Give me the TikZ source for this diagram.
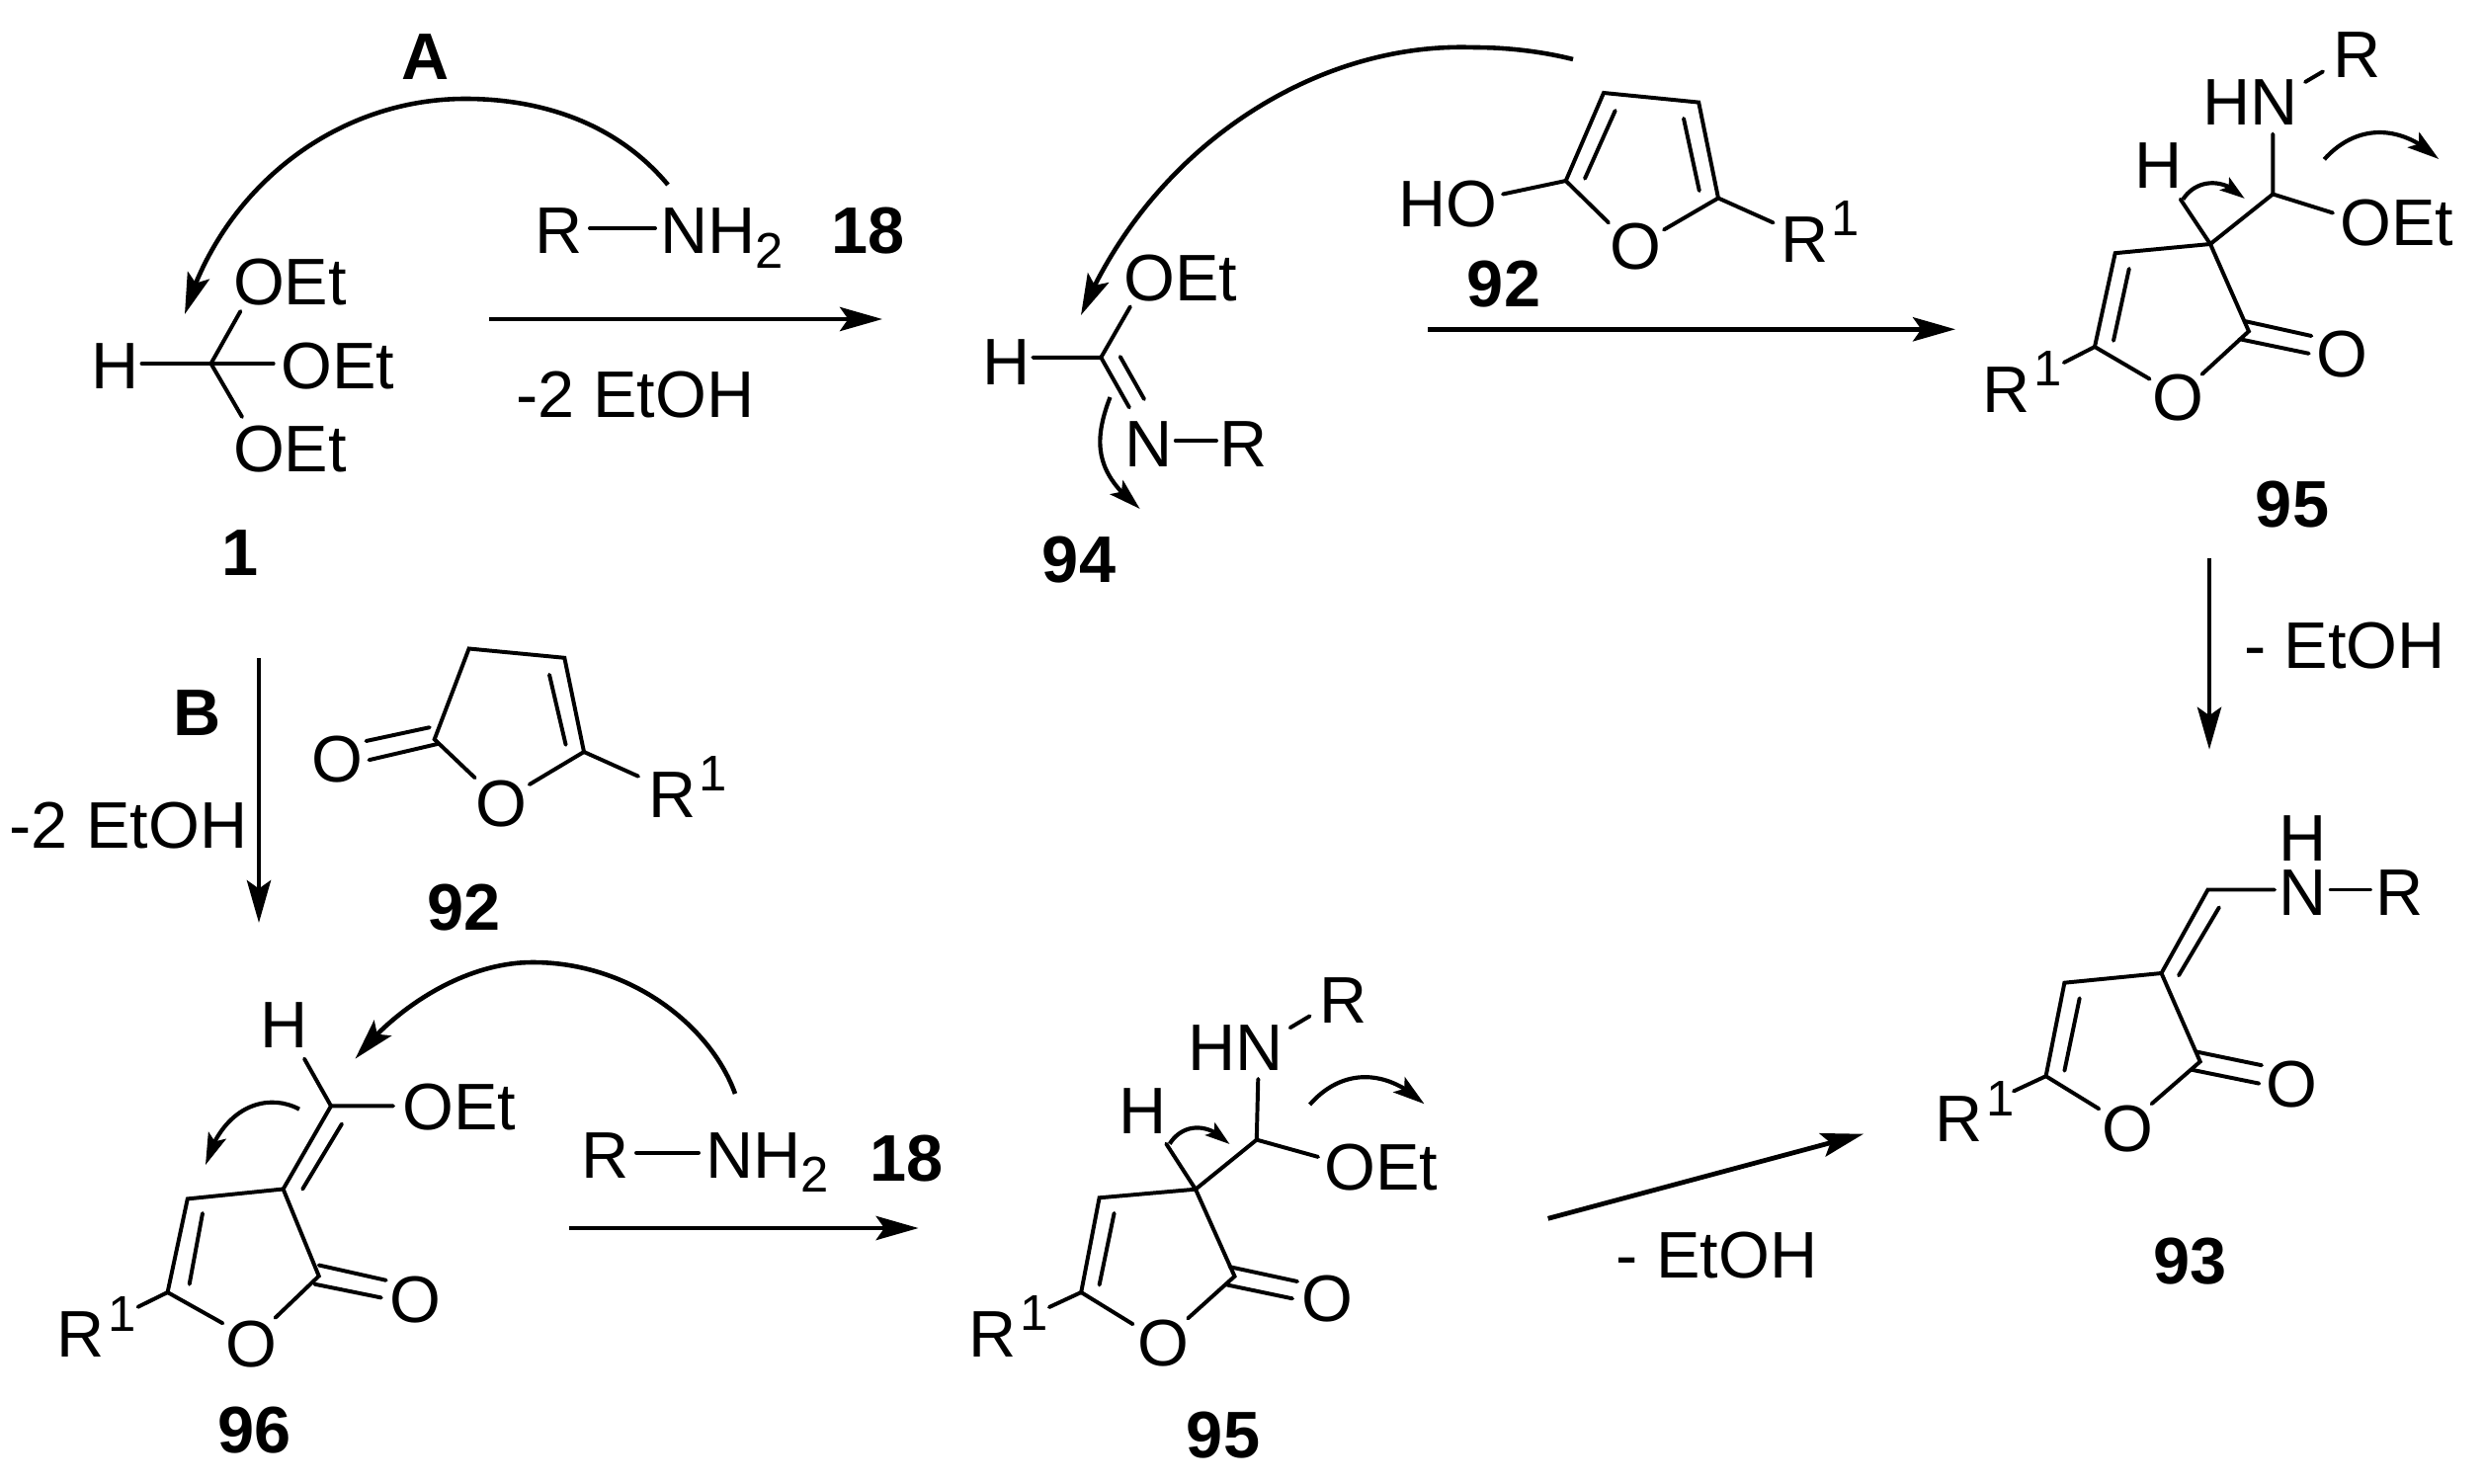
\documentclass[tikz,border=0pt]{standalone}
\usepackage{fontspec}
\setmainfont{Liberation Sans}
\usetikzlibrary{arrows.meta,bending}
\newcommand{\Rone}{R\kern0.8pt\raisebox{6.4pt}{\fontsize{12.2}{13}\selectfont 1}}
\newcommand{\NHtwo}{NH\raisebox{-3.4pt}{\fontsize{12.2}{13}\selectfont 2}}
\tikzset{
  atom/.style={inner sep=0pt,outer sep=0pt,anchor=base,font=\fontsize{16}{18}\selectfont},
  atomw/.style={atom,anchor=base west},
  lab/.style={atom,font=\fontsize{16}{18}\selectfont\bfseries},
  bond/.style={line width=0.95pt,line cap=round,line join=miter},
  rxn/.style={line width=1.15pt,-{Stealth[length=10.3pt,width=5.8pt,inset=2pt]}},
  big/.style={line width=1.1pt,-{Stealth[length=10pt,width=5.6pt,inset=2pt,flex]}},
  mid/.style={line width=1pt,-{Stealth[length=7.7pt,width=4.6pt,inset=1.6pt,flex]}},
  small/.style={line width=1pt,-{Stealth[length=6pt,width=3.8pt,inset=1.2pt,flex]}},
}
\begin{document}
\begin{tikzpicture}[x=0.24pt,y=-0.24pt]
\useasboundingbox (0,0) rectangle (2515,1502);
% ---------- compound 1
\node[atom] (aH) at (116.5,393) {H};
\node[atom] (aO1) at (293.5,308.5) {OEt};
\node[atom] (aO2) at (342,393) {OEt};
\node[atom] (aO3) at (293.5,477.5) {OEt};
\node[lab] (a1) at (243,582) {1};
\node[lab] (lA) at (430.5,81) {A};
\coordinate (aC) at (213.5,368);
\coordinate (aB1) at (143.5,368);
\coordinate (aB2) at (276.7,368);
\coordinate (aB3) at (243.4,315);
\coordinate (aB4) at (245,422);
\draw[bond] (aB1) -- (aC) -- (aB2);
\draw[bond] (aB3) -- (aC) -- (aB4);
% ---------- R-NH2 top + arrow
\node[atom] (rR) at (565.5,257) {R};
\node[atomw] (rN) at (668,257) {\NHtwo};
\node[lab] (r18) at (879,257) {18};
\node[atom] (rE) at (643,423) {-2 EtOH};
\coordinate (rB1) at (597,231);
\coordinate (rB2) at (663,231);
\draw[bond] (rB1) -- (rB2);
\coordinate (A1s) at (495,323);
\coordinate (A1e) at (893,323);
\draw[rxn] (A1s) -- (A1e);
\coordinate (cAa) at (676,187);
\coordinate (cAb) at (471,100);
\coordinate (cAc) at (187,318);
\draw[big] (cAa) .. controls (620,120) and (540,100) .. (cAb) .. controls (340,100) and (225,190) .. (cAc);
% ---------- compound 94
\node[atom] (bH) at (1018.6,389) {H};
\node[atom] (bO) at (1195,304.5) {OEt};
\node[atom] (bN) at (1162.8,472.5) {N};
\node[atom] (bR) at (1259,472.5) {R};
\node[lab] (b94) at (1092,589) {94};
\coordinate (bC) at (1114.3,361.8);
\coordinate (bB1) at (1045.4,361.8);
\coordinate (bB2) at (1143.9,310.4);
\coordinate (bB3) at (1142.9,412.4);
\coordinate (bI1) at (1133.7,361);
\coordinate (bI2) at (1158,404);
\coordinate (bB4) at (1189.8,446);
\coordinate (bB5) at (1231,446);
\draw[bond] (bB1) -- (bC) -- (bB2);
\draw[bond] (bC) -- (bB3);
\draw[bond] (bI1) -- (bI2);
\draw[bond] (bB4) -- (bB5);
\coordinate (cBa) at (1123.5,402);
\coordinate (cBb) at (1153.6,515);
\draw[mid] (cBa) .. controls (1105,450) and (1110,480) .. (cBb);
\coordinate (cCa) at (1592,60);
\coordinate (cCb) at (1492,48);
\coordinate (cCc) at (1094,319);
\draw[big] (cCa) .. controls (1560,52) and (1525,48) .. (cCb) .. controls (1330,42) and (1165,150) .. (cCc);
% ---------- compound 92 (enol)
\node[atom] (fHO) at (1465.7,229.3) {HO};
\node[atom] (fO) at (1655.6,272.8) {O};
\node[atomw] (fR) at (1802,265) {\Rone};
\node[lab] (f92) at (1522,310.4) {92};
\coordinate (fC2) at (1584.7,183);
\coordinate (fC3) at (1623,94);
\coordinate (fC4) at (1719.2,103.6);
\coordinate (fC5) at (1739,200.5);
\coordinate (fI1) at (1634.7,112);
\coordinate (fI2) at (1604,180.7);
\coordinate (fI3) at (1704,120);
\coordinate (fI4) at (1719.8,193);
\coordinate (fB1) at (1521,196.5);
\coordinate (fB2) at (1628,225.4);
\coordinate (fB3) at (1684,232.5);
\coordinate (fB4) at (1794.6,225.4);
\draw[bond] (fB2) -- (fC2) -- (fC3) -- (fC4) -- (fC5) -- (fB3);
\draw[bond] (fI1) -- (fI2);
\draw[bond] (fI3) -- (fI4);
\draw[bond] (fB1) -- (fC2);
\draw[bond] (fC5) -- (fB4);
\coordinate (A2s) at (1445,333.3);
\coordinate (A2e) at (1979,333.3);
\draw[rxn] (A2s) -- (A2e);
% ---------- compound 95 (top)
\node[atom] (tR) at (2386,78.3) {R};
\node[atom] (tHN) at (2277.5,126.5) {HN};
\node[atom] (tH) at (2184.6,190.6) {H};
\node[atom] (tOEt) at (2426,248.3) {OEt};
\node[atomw] (tR1) at (2006.8,417) {\Rone};
\node[atom] (tO) at (2204,425) {O};
\node[atom] (tOc) at (2370,381.6) {O};
\node[lab] (t95) at (2320,533.8) {95};
\coordinate (tB1) at (2333,83);
\coordinate (tB2) at (2351,72.4);
\coordinate (tCt) at (2300.3,196.5);
\coordinate (tB3) at (2300.3,135.6);
\coordinate (tB4) at (2361,215.5);
\coordinate (tC3) at (2237,247);
\coordinate (tB5) at (2206.8,201.7);
\coordinate (tC4) at (2140.7,256.2);
\coordinate (tC5) at (2120,351);
\coordinate (tI1) at (2154.8,272);
\coordinate (tI2) at (2139,344.8);
\coordinate (tB6) at (2088.8,367);
\coordinate (tB7) at (2175.6,383.6);
\coordinate (tB8) at (2228.6,378.8);
\coordinate (tC2) at (2275.9,335.3);
\coordinate (tD1) at (2271.7,325);
\coordinate (tD2) at (2339.3,340);
\coordinate (tD3) at (2266.5,343.2);
\coordinate (tD4) at (2336.7,357.8);
\draw[bond] (tB1) -- (tB2);
\draw[bond] (tB3) -- (tCt) -- (tB4);
\draw[bond] (tCt) -- (tC3) -- (tB5);
\draw[bond] (tB7) -- (tC5) -- (tC4) -- (tC3) -- (tC2) -- (tB8);
\draw[bond] (tI1) -- (tI2);
\draw[bond] (tC5) -- (tB6);
\draw[bond] (tD1) -- (tD2);
\draw[bond] (tD3) -- (tD4);
\coordinate (cTa) at (2209.4,201.7);
\coordinate (cTb) at (2271.7,200.9);
\draw[small] (cTa) .. controls (2222,182) and (2250,178) .. (cTb);
\coordinate (cUa) at (2352.3,161.3);
\coordinate (cUb) at (2468.2,161);
\draw[mid] (cUa) .. controls (2385,125) and (2430,125) .. (cUb);
% ---------- arrow to 93
\coordinate (A3s) at (2236,565.4);
\coordinate (A3e) at (2236,758.7);
\draw[rxn] (A3s) -- (A3e);
\node[atom] (pE) at (2373,676) {- EtOH};
% ---------- compound 93
\node[atom] (pH) at (2330.8,871.6) {H};
\node[atom] (pN) at (2330.8,926.7) {N};
\node[atom] (pR) at (2429,926.7) {R};
\node[atomw] (pR1) at (1958.5,1155.8) {\Rone};
\node[atom] (pO) at (2153,1165) {O};
\node[atom] (pOc) at (2319.6,1120.5) {O};
\node[lab] (p93) at (2216.6,1299.5) {93};
\coordinate (pCx) at (2234.5,900.5);
\coordinate (pB1) at (2302,900.5);
\coordinate (pB2) at (2358.8,900.5);
\coordinate (pB3) at (2398.8,900.5);
\coordinate (pC3) at (2187.5,985);
\coordinate (pI1) at (2205,987.3);
\coordinate (pI2) at (2245.9,918.4);
\coordinate (pC4) at (2089.4,994.7);
\coordinate (pC5) at (2070.6,1089.2);
\coordinate (pI3) at (2104.7,1010.3);
\coordinate (pI4) at (2089.4,1083.7);
\coordinate (pB4) at (2038,1104.4);
\coordinate (pB5) at (2124.3,1122.3);
\coordinate (pB6) at (2177.6,1117.2);
\coordinate (pC2) at (2226.7,1074.5);
\coordinate (pD1) at (2222.4,1064.4);
\coordinate (pD2) at (2289,1078.2);
\coordinate (pD3) at (2218.4,1082.8);
\coordinate (pD4) at (2286.3,1096.6);
\draw[bond] (pB1) -- (pCx) -- (pC3) -- (pC4) -- (pC5) -- (pB5);
\draw[bond] (pC3) -- (pC2) -- (pB6);
\draw[bond] (pB2) -- (pB3);
\draw[bond] (pI1) -- (pI2);
\draw[bond] (pI3) -- (pI4);
\draw[bond] (pC5) -- (pB4);
\draw[bond] (pD1) -- (pD2);
\draw[bond] (pD3) -- (pD4);
% ---------- arrow B + lactone 92
\coordinate (A4s) at (262,666.4);
\coordinate (A4e) at (262,934);
\draw[rxn] (A4s) -- (A4e);
\node[lab] (lB) at (200,744.5) {B};
\node[atom] (lE) at (130,858.8) {-2 EtOH};
\node[atom] (lO) at (507,836.8) {O};
\node[atom] (lOc) at (341.7,791) {O};
\node[atomw] (lR) at (656,827) {\Rone};
\node[lab] (l92) at (469.4,941.3) {92};
\coordinate (lC2) at (439.7,748.3);
\coordinate (lC3) at (474.6,656.5);
\coordinate (lC4) at (571.3,665.8);
\coordinate (lC5) at (591,761);
\coordinate (lI1) at (556,682.9);
\coordinate (lI2) at (572.6,753.8);
\coordinate (lB1) at (480.7,787.3);
\coordinate (lB2) at (535.8,794);
\coordinate (lB3) at (646,785.7);
\coordinate (lD1) at (370.5,750);
\coordinate (lD2) at (434.8,736.2);
\coordinate (lD3) at (373.5,769.2);
\coordinate (lD4) at (444,752.7);
\draw[bond] (lB1) -- (lC2) -- (lC3) -- (lC4) -- (lC5) -- (lB2);
\draw[bond] (lI1) -- (lI2);
\draw[bond] (lC5) -- (lB3);
\draw[bond] (lD1) -- (lD2);
\draw[bond] (lD3) -- (lD4);
% ---------- compound 96
\node[atom] (sH) at (288,1060.6) {H};
\node[atom] (sOEt) at (465,1143) {OEt};
\node[atomw] (sR1) at (58,1373.9) {\Rone};
\node[atom] (sO) at (254.7,1383) {O};
\node[atom] (sOc) at (420,1338) {O};
\node[lab] (s96) at (258,1470) {96};
\coordinate (sCx) at (335,1119.4);
\coordinate (sB1) at (308,1071.6);
\coordinate (sB2) at (398,1119.4);
\coordinate (sC3) at (286.6,1203.5);
\coordinate (sI1) at (306.2,1203.5);
\coordinate (sI2) at (346,1137.5);
\coordinate (sC4) at (189.8,1213.4);
\coordinate (sC5) at (169.6,1308);
\coordinate (sI3) at (205,1228);
\coordinate (sI4) at (191.7,1299.7);
\coordinate (sB3) at (139.6,1322.8);
\coordinate (sB4) at (225.4,1339.3);
\coordinate (sB5) at (278.6,1333.8);
\coordinate (sC2) at (322.7,1291.5);
\coordinate (sD1) at (322.7,1280.5);
\coordinate (sD2) at (390.7,1295.8);
\coordinate (sD3) at (318.4,1299.7);
\coordinate (sD4) at (385.8,1313.4);
\draw[bond] (sB1) -- (sCx) -- (sB2);
\draw[bond] (sCx) -- (sC3) -- (sC4) -- (sC5) -- (sB4);
\draw[bond] (sC3) -- (sC2) -- (sB5);
\draw[bond] (sI1) -- (sI2);
\draw[bond] (sI3) -- (sI4);
\draw[bond] (sC5) -- (sB3);
\draw[bond] (sD1) -- (sD2);
\draw[bond] (sD3) -- (sD4);
\coordinate (cSa) at (303,1122.7);
\coordinate (cSb) at (208,1179);
\draw[mid] (cSa) .. controls (270,1105) and (225,1120) .. (cSb);
\coordinate (cDa) at (744,1107);
\coordinate (cDb) at (539,974);
\coordinate (cDc) at (359.5,1071.6);
\draw[big] (cDa) .. controls (720,1040) and (640,974) .. (cDb) .. controls (470,974) and (400,1020) .. (cDc);
% ---------- R-NH2 lower + arrow
\node[atom] (qR) at (612.5,1192.5) {R};
\node[atomw] (qN) at (714.5,1192.5) {\NHtwo};
\node[lab] (q18) at (917.5,1195) {18};
\coordinate (qB1) at (644,1166.7);
\coordinate (qB2) at (707,1166.7);
\draw[bond] (qB1) -- (qB2);
\coordinate (A5s) at (575.6,1243);
\coordinate (A5e) at (929.6,1243);
\draw[rxn] (A5s) -- (A5e);
% ---------- compound 95 (bottom)
\node[atom] (uR) at (1360,1035.4) {R};
\node[atom] (uHN) at (1250.5,1083.7) {HN};
\node[atom] (uH) at (1157,1147.7) {H};
\node[atom] (uOEt) at (1398,1204.7) {OEt};
\node[atomw] (uR1) at (980.8,1373) {\Rone};
\node[atom] (uO) at (1177.3,1382.4) {O};
\node[atom] (uOc) at (1343.5,1337.5) {O};
\node[lab] (u95) at (1238,1475) {95};
\coordinate (uB1) at (1305.7,1040.2);
\coordinate (uB2) at (1325.6,1028.4);
\coordinate (uCt) at (1271.8,1153.6);
\coordinate (uB3) at (1273.3,1092);
\coordinate (uB4) at (1334,1170.9);
\coordinate (uC3) at (1210,1203.7);
\coordinate (uB5) at (1180.3,1157.7);
\coordinate (uC4) at (1112.6,1212.3);
\coordinate (uC5) at (1094.2,1308);
\coordinate (uI1) at (1127.6,1227.9);
\coordinate (uI2) at (1112.6,1300.5);
\coordinate (uB6) at (1061.9,1323);
\coordinate (uB7) at (1146.5,1340.2);
\coordinate (uB8) at (1202.2,1334.4);
\coordinate (uC2) at (1249.5,1291.8);
\coordinate (uD1) at (1244.5,1282.2);
\coordinate (uD2) at (1313,1297);
\coordinate (uD3) at (1242,1300.5);
\coordinate (uD4) at (1308,1314.3);
\draw[bond] (uB1) -- (uB2);
\draw[bond] (uB3) -- (uCt) -- (uB4);
\draw[bond] (uCt) -- (uC3) -- (uB5);
\draw[bond] (uB7) -- (uC5) -- (uC4) -- (uC3) -- (uC2) -- (uB8);
\draw[bond] (uI1) -- (uI2);
\draw[bond] (uC5) -- (uB6);
\draw[bond] (uD1) -- (uD2);
\draw[bond] (uD3) -- (uD4);
\coordinate (cVa) at (1183.8,1157.7);
\coordinate (cVb) at (1244.5,1158);
\draw[small] (cVa) .. controls (1196,1138) and (1222,1134) .. (cVb);
\coordinate (cWa) at (1325.6,1118);
\coordinate (cWb) at (1441.5,1117.3);
\draw[mid] (cWa) .. controls (1358,1081) and (1403,1081) .. (cWb);
% ---------- diagonal arrow
\coordinate (A6s) at (1566.7,1233.3);
\coordinate (A6e) at (1886,1147.7);
\draw[rxn] (A6s) -- (A6e);
\node[atom] (vE) at (1737.5,1293.3) {- EtOH};
\end{tikzpicture}
\end{document}
